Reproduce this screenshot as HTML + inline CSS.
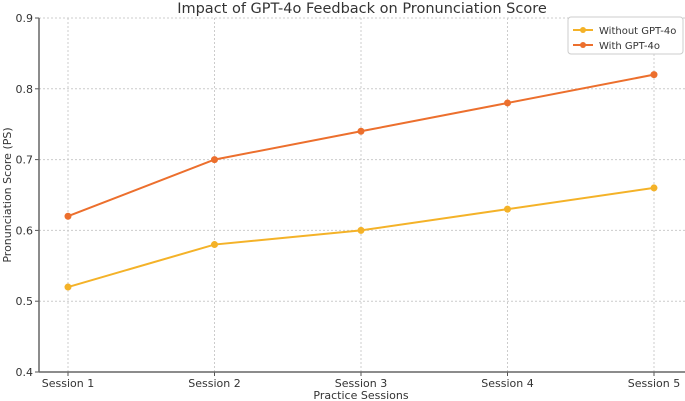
<!DOCTYPE html>
<html><head><meta charset="utf-8"><style>
html,body{margin:0;padding:0;background:#fff;}
svg{display:block;font-family:"DejaVu Sans","Liberation Sans",sans-serif;}
</style></head><body>
<svg id="chart" width="685" height="401" viewBox="0 0 685 401">
<text x="362" y="13" text-anchor="middle" font-size="14.5" fill="#333">Impact of GPT-4o Feedback on Pronunciation Score</text>
<g id="grid"></g>
<g id="axes"></g>
<g id="series"></g>
<text x="361" y="399" text-anchor="middle" font-size="11" fill="#333">Practice Sessions</text>
<text transform="translate(11,195) rotate(-90)" text-anchor="middle" font-size="11" fill="#333">Pronunciation Score (PS)</text>
<g>
<rect x="568" y="17" width="115" height="37" rx="3" fill="#fff" stroke="#ccc"/>
<g>
<line x1="573" y1="30" x2="593" y2="30" stroke="#f4b228" stroke-width="2"/><circle cx="583" cy="30" r="3" fill="#f4b228"/>
<text x="599" y="34" font-size="10" fill="#333">Without GPT-4o</text></g>
<g>
<line x1="573" y1="45" x2="593" y2="45" stroke="#ec6f2d" stroke-width="2"/><circle cx="583" cy="45" r="3" fill="#ec6f2d"/>
<text x="599" y="49" font-size="10" fill="#333">With GPT-4o</text></g>
</g>
</svg>
<script>
const categories=["Session 1","Session 2","Session 3","Session 4","Session 5"];
const withoutValues=[0.52,0.58,0.60,0.63,0.66];
const withValues=[0.62,0.70,0.74,0.78,0.82];
const yTicks=[0.4,0.5,0.6,0.7,0.8,0.9];
const yTickLabels=["0.4","0.5","0.6","0.7","0.8","0.9"];
const NS="http://www.w3.org/2000/svg";
const x0=68,dx=146.5,yBase=372,yTop=18,yMin=0.4,yMax=0.9,axisX=39;
const xs=i=>x0+i*dx;
const ys=v=>yBase-(v-yMin)/(yMax-yMin)*(yBase-yTop);
function mk(t,a,p){const e=document.createElementNS(NS,t);for(const k in a)e.setAttribute(k,a[k]);p.appendChild(e);return e;}
const grid=document.getElementById('grid'),axes=document.getElementById('axes'),series=document.getElementById('series');
yTicks.forEach((v,i)=>{
 const g=mk('line',{x1:axisX,x2:685,y1:ys(v),y2:ys(v),stroke:'#ccc','stroke-dasharray':'2,2','stroke-width':1},grid);
 
 
 mk('line',{x1:axisX-4,x2:axisX,y1:ys(v),y2:ys(v),stroke:'#555'},axes);
 const t=mk('text',{x:axisX-6,y:ys(v)+4,'text-anchor':'end','font-size':11,fill:'#333'},axes);
 t.textContent=yTickLabels[i];
 
 
});
categories.forEach((c,i)=>{
 const g=mk('line',{x1:xs(i),x2:xs(i),y1:yTop,y2:yBase,stroke:'#ccc','stroke-dasharray':'2,2'},grid);
 
 
 mk('line',{x1:xs(i),x2:xs(i),y1:yBase,y2:yBase+4,stroke:'#555'},axes);
 const t=mk('text',{x:xs(i),y:yBase+15,'text-anchor':'middle','font-size':11,fill:'#333'},axes);
 t.textContent=c;
 
 
});
mk('line',{x1:axisX,x2:axisX,y1:yTop,y2:yBase,stroke:'#666','stroke-width':1.5},axes);
mk('line',{x1:axisX,x2:685,y1:yBase,y2:yBase,stroke:'#666','stroke-width':1.5},axes);
function drawSeries(vals,color,name){
 const pl=mk('polyline',{points:vals.map((v,i)=>xs(i)+','+ys(v)).join(' '),fill:'none',stroke:color,'stroke-width':2},series);
 
 
 vals.forEach((v,i)=>{
  const c=mk('circle',{cx:xs(i),cy:ys(v),r:3.5,fill:color},series);
  
  
 });
}
drawSeries(withoutValues,'#f4b228','without-gpt4o');
drawSeries(withValues,'#ec6f2d','with-gpt4o');
</script>
</body></html>
